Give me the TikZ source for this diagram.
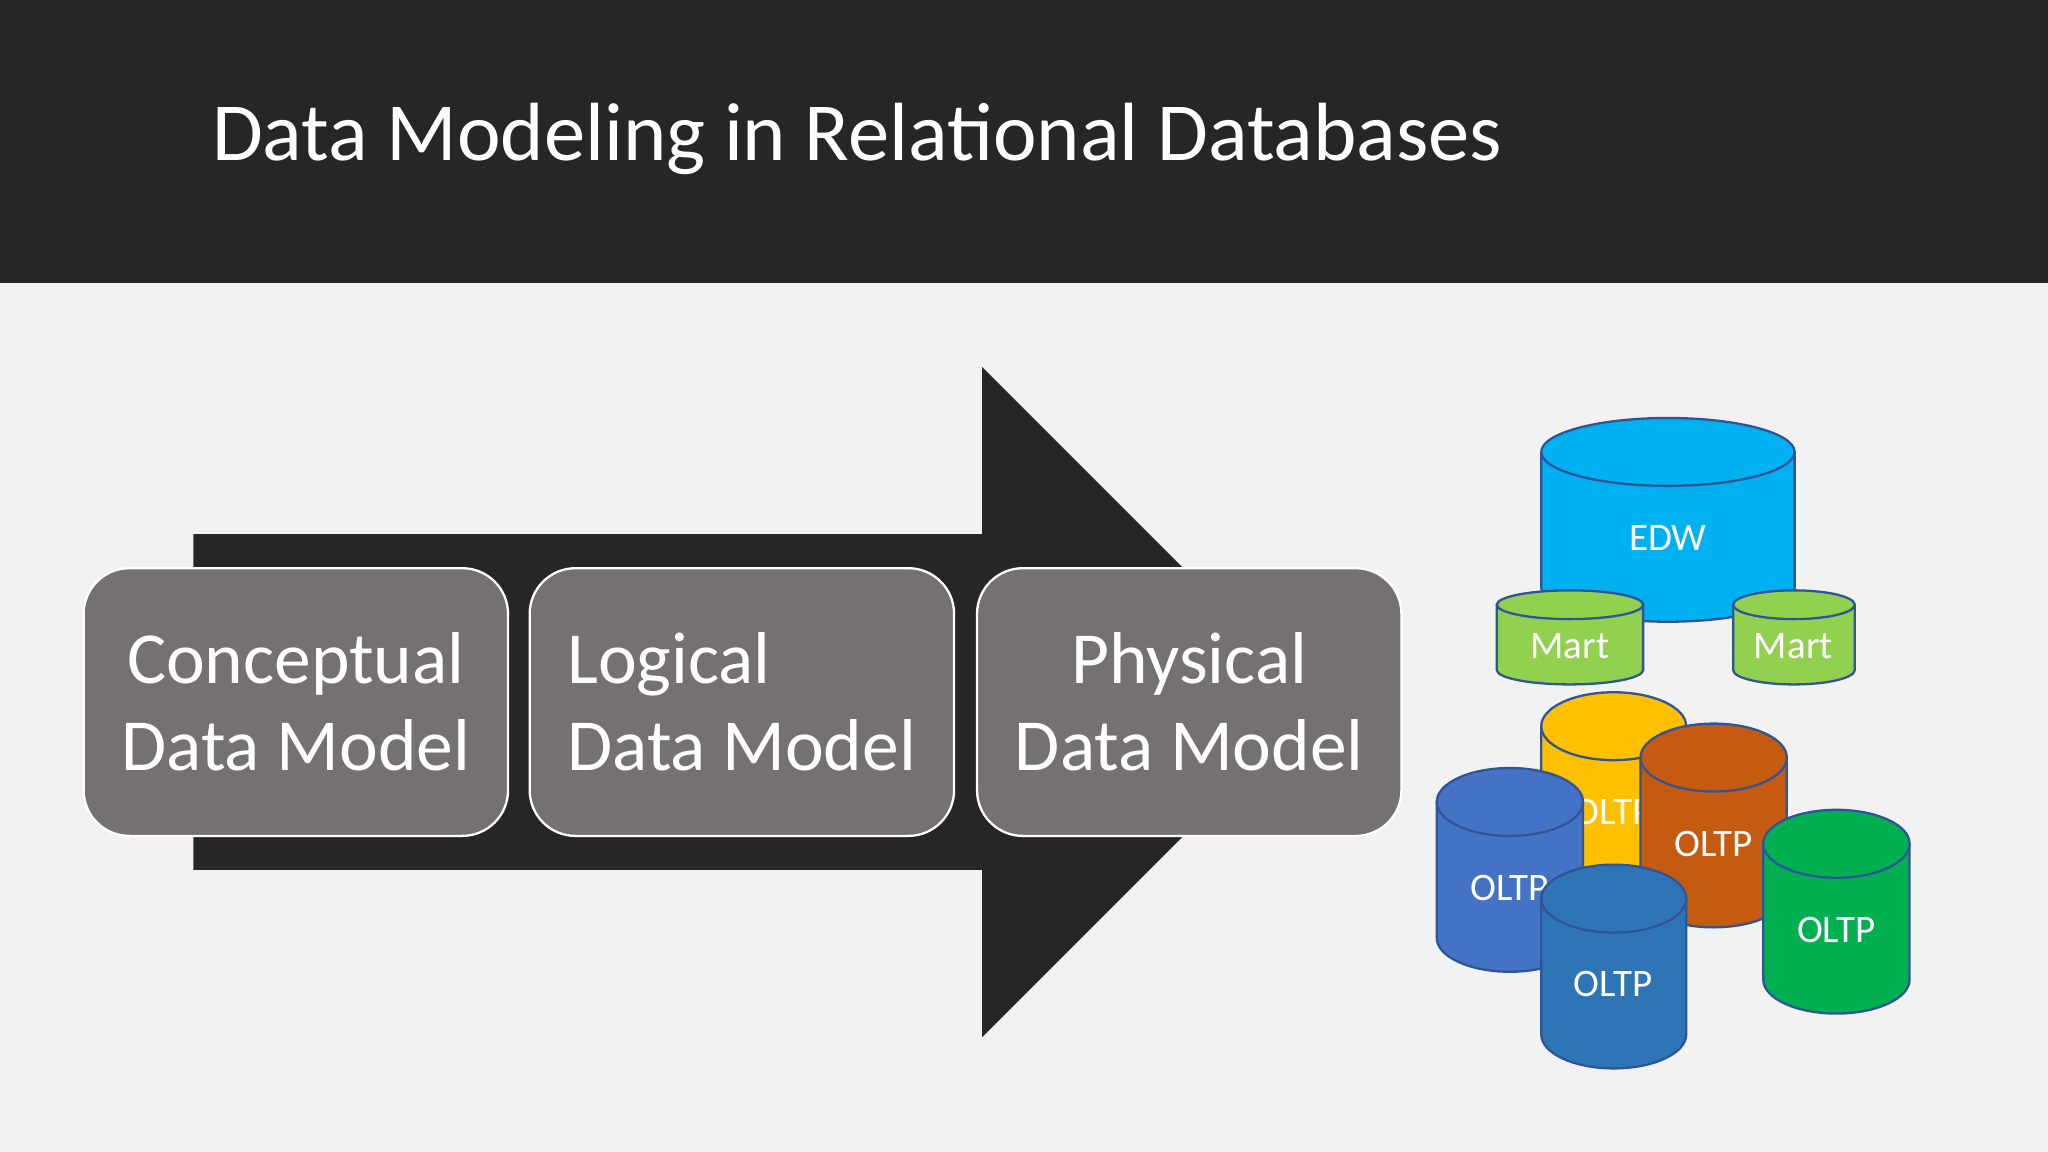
\documentclass[tikz,border=0pt]{standalone}
\usepackage{fontspec}
\setmainfont{Carlito}
\definecolor{bg}{HTML}{F2F2F2}
\definecolor{hdr}{HTML}{262626}
\definecolor{boxg}{HTML}{757171}
\definecolor{edw}{HTML}{00B0F0}
\definecolor{mart}{HTML}{92D050}
\definecolor{ylw}{HTML}{FFC000}
\definecolor{org}{HTML}{C55A11}
\definecolor{bl1}{HTML}{4472C4}
\definecolor{bl2}{HTML}{2E75B6}
\definecolor{grn}{HTML}{00B050}
\definecolor{edge}{HTML}{2F5597}
\begin{document}
\begin{tikzpicture}[x=0.02cm,y=-0.02cm,
  model/.style={draw=white,line width=1pt,fill=boxg,rounded corners=0.7cm,minimum width=6.5cm,minimum height=4.1cm,text=white,font=\fontsize{32}{38}\selectfont,inner sep=0pt},
  mtext/.style={text=white,font=\fontsize{32}{38}\selectfont,inner sep=0pt},
  ctext/.style={text=white,font=\fontsize{17}{19}\selectfont}]
\fill[bg] (0,0) rectangle (1568,882);
\useasboundingbox (0,0) rectangle (1568,882);
\fill[hdr] (0,0) rectangle (1568,217);
\node[anchor=base west,text=white,font=\fontsize{36}{40}\selectfont,inner sep=0pt] (title) at (162,123) {Data Modeling in Relational Databases};
\fill[hdr] (148,409) -- (752,409) -- (752,281) -- (1008.5,537.5) -- (752,794) -- (752,666) -- (148,666) -- cycle;
\node[model] (c) at (226.5,537.5) {};
\node[model] (l) at (568,537.5) {};
\node[model] (p) at (910.5,537.5) {};
\node[mtext,align=center] (ct) at (c) {Conceptual\\Data Model};
\node[mtext,align=left,anchor=west] (lt) at (434,537.5) {Logical\\Data Model};
\node[mtext,align=center] (pt) at (p) {Physical\\Data Model};
\newcommand\mycyl[7]{%
  \pgfmathsetmacro\rx{(#2-#1)/2}\pgfmathsetmacro\cx{(#1+#2)/2}%
  \filldraw[fill=#6,draw=#7,line width=1pt] (#1,#3) -- (#1,#4) arc[start angle=180,end angle=0,x radius=\rx,y radius=#5] -- (#2,#3) -- cycle;
  \filldraw[fill=#6,draw=#7,line width=1pt] (\cx,#3) ellipse[x radius=\rx,y radius=#5];
}
\mycyl{1180}{1374}{346}{450}{26}{edw}{edge}
\node[ctext] (edw) at (1277,412) {EDW};
\mycyl{1146}{1258}{463}{513}{11}{mart}{edge}
\node[ctext] (m1) at (1202,495) {Mart};
\mycyl{1327}{1420}{463}{513}{11}{mart}{edge}
\node[ctext] (m2) at (1373,495) {Mart};
\mycyl{1180}{1291}{556}{660}{26}{ylw}{edge}
\node[ctext] (o1) at (1235,622) {OLTP};
\mycyl{1256}{1368}{580}{684}{26}{org}{edge}
\node[ctext] (o2) at (1312,646) {OLTP};
\mycyl{1100}{1212}{614}{718}{26}{bl1}{edge}
\node[ctext] (o3) at (1156,680) {OLTP};
\mycyl{1350}{1462}{646}{750}{26}{grn}{edge}
\node[ctext] (o4) at (1406,712) {OLTP};
\mycyl{1180}{1291}{688}{792}{26}{bl2}{edge}
\node[ctext] (o5) at (1235,753) {OLTP};
\end{tikzpicture}
\end{document}
